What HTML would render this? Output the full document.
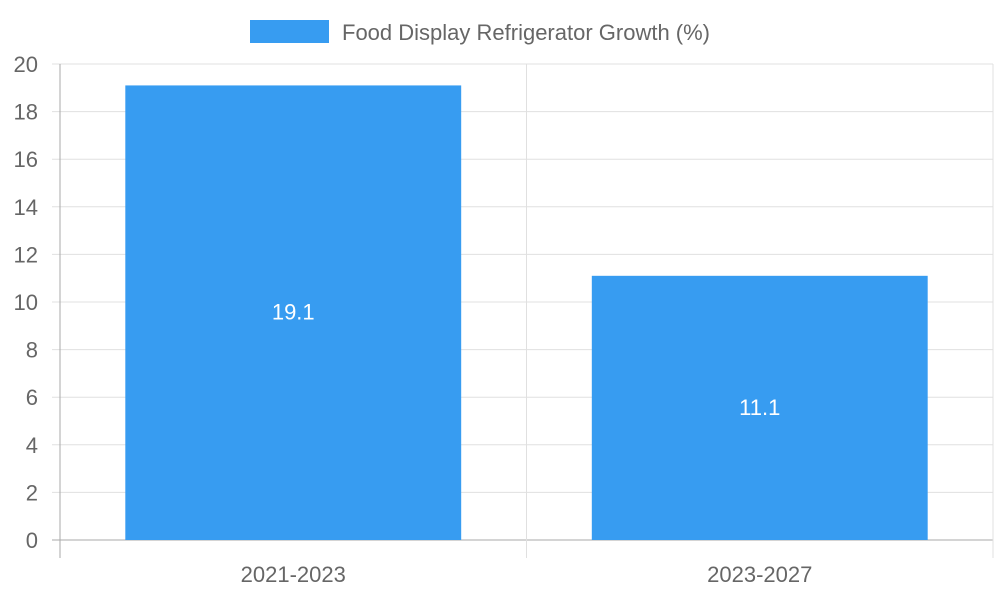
<!DOCTYPE html>
<html><head><meta charset="utf-8"><style>
body{margin:0;background:#fff;}
svg{display:block;font-family:"Liberation Sans",sans-serif;}
</style></head><body>
<svg id="chart" width="1000" height="600">
<g id="legend">
<rect x="250" y="20" width="79" height="23" fill="#379cf1"/>
<text x="342" y="40" font-size="22" fill="#666">Food Display Refrigerator Growth (%)</text>
</g>
<g id="grid"></g><g id="bars"></g><g id="labels"></g>
</svg>
<script>
const categories=["2021-2023","2023-2027"];
const values=[19.1,11.1];
const yTicks=[0,2,4,6,8,10,12,14,16,18,20];
const NS="http://www.w3.org/2000/svg";
const L=60,R=993,T=64,B=540,yMax=20;
const y=v=>B-(v/yMax)*(B-T);
const cw=(R-L)/categories.length;
const x=i=>L+cw*i;
function mk(tag,attrs,parent,txt){const e=document.createElementNS(NS,tag);for(const k in attrs)e.setAttribute(k,attrs[k]);if(txt!==undefined)e.textContent=txt;document.getElementById(parent).appendChild(e);return e;}
yTicks.forEach(t=>{
 const g=mk('line',{x1:L-8,x2:R,y1:y(t),y2:y(t),stroke:t===0?'#aaa':'#e0e0e0','stroke-width':1},'grid');
 
 
 const lb=mk('text',{x:38,y:y(t)+8,'text-anchor':'end','font-size':22,fill:'#666'},'labels',String(t));
 
 
});
for(let i=0;i<=categories.length;i++){
 const v=mk('line',{x1:x(i),x2:x(i),y1:T,y2:558,stroke:i===0?'#aaa':'#e0e0e0','stroke-width':1},'grid');
 
 
}
categories.forEach((c,i)=>{
 const bw=cw*0.72,bx=x(i)+(cw-bw)/2;
 const r=mk('rect',{x:bx,y:y(values[i]),width:bw,height:B-y(values[i]),fill:'#379cf1'},'bars');
 
 
 const vl=mk('text',{x:x(i)+cw/2,y:(y(values[i])+B)/2+7,'text-anchor':'middle','font-size':22,fill:'#fff'},'labels',String(values[i]));
 
 
 const xl=mk('text',{x:x(i)+cw/2,y:582,'text-anchor':'middle','font-size':22,fill:'#666'},'labels',c);
 
 
});
</script>
</body></html>
